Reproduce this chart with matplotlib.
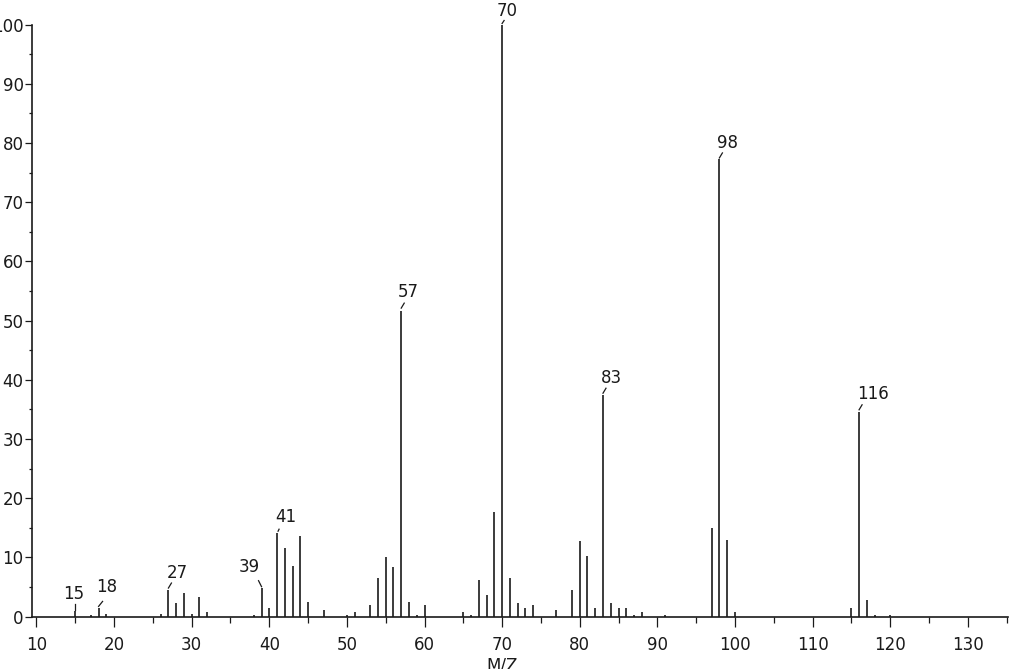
import matplotlib
matplotlib.use("Agg")
import matplotlib.pyplot as plt
from matplotlib.lines import Line2D
from matplotlib.transforms import IdentityTransform
from matplotlib.ticker import MultipleLocator

# ---- data -------------------------------------------------------------
mz = [15, 17, 18, 19, 26, 27, 28, 29, 30, 31, 32, 38, 39, 40, 41, 42, 43, 44, 45, 47,
      50, 51, 53, 54, 55, 56, 57, 58, 59, 60, 65, 66, 67, 68, 69, 70, 71, 72, 73, 74,
      77, 79, 80, 81, 82, 83, 84, 85, 86, 87, 88, 91, 97, 98, 99, 100,
      115, 116, 117, 118, 120]
intensity = [0.9, 0.3, 1.4, 0.4, 0.4, 4.5, 2.25, 3.95, 0.4, 3.4, 0.85, 0.35, 4.9, 1.4,
             14.1, 11.65, 8.55, 13.6, 2.5, 1.1,
             0.3, 0.8, 2.0, 6.5, 10.1, 8.45, 51.6, 2.5, 0.3, 2.0, 0.8, 0.3, 6.2, 3.65,
             17.6, 100.0, 6.5, 2.25, 1.4, 2.0,
             1.1, 4.5, 12.8, 10.2, 1.4, 37.4, 2.25, 1.4, 1.4, 0.3, 0.8, 0.3, 15.0, 77.3,
             13.0, 0.8,
             1.4, 34.6, 2.8, 0.3, 0.3]
labeled_peaks = [15, 18, 27, 39, 41, 57, 70, 83, 98, 116]
x_ticks = [10, 20, 30, 40, 50, 60, 70, 80, 90, 100, 110, 120, 130]
y_ticks = [0, 10, 20, 30, 40, 50, 60, 70, 80, 90, 100]
x_title = "M/Z"

# ---- label layout (pixel offsets from bar top) ------------------------
# (leader x0, y0, x1, y1, text dx, text dy, ha)
right_lean = (0, 2, 3, 7, -2, 12, "left")
label_layout = {
    15: (0, 1, 0, 7, -1.5, 12, "center"),
    18: (0, 2, 4, 7, -2, 16, "left"),
    27: (0, 2, 3, 7, -2, 12, "left"),
    39: (0, 1, -3, 7, -1.5, 16, "right"),
    41: (1, 2, 2, 4, -2, 11, "left"),
    57: (0, 3, 3, 8, -3, 14, "left"),
    70: (0, 1, 2, 4, -5, 8, "left"),
    83: right_lean,
    98: (0, 1, 3, 6, -2.5, 11, "left"),
    116: (0, 2, 3, 7, -2, 13, "left"),
}

# ---- figure -----------------------------------------------------------
W, H, DPI = 1024, 669, 100
fig = plt.figure(figsize=(W / DPI, H / DPI), dpi=DPI)
left_px, right_px, top_px, base_px = 32.3, 1008.0, 24.5, 616.7
ax = fig.add_axes([left_px / W, (H - base_px) / H,
                   (right_px - left_px) / W, (base_px - top_px) / H])

ink = "#1a1a1a"
ax.vlines(mz, 0, intensity, color=ink, lw=1.2, clip_on=False)

ax.set_xlim(9.46, 135.19)
ax.set_ylim(0, 100)

for s in ("top", "right"):
    ax.spines[s].set_visible(False)
for s in ("left", "bottom"):
    ax.spines[s].set_linewidth(1.2)
    ax.spines[s].set_color(ink)

ax.set_xticks(x_ticks)
ax.set_yticks(y_ticks)
ax.xaxis.set_minor_locator(MultipleLocator(5))
ax.yaxis.set_minor_locator(MultipleLocator(5))
ax.tick_params(axis="x", which="major", length=7.2, width=0.9, pad=7.0,
               labelsize=12, colors=ink)
ax.tick_params(axis="x", which="minor", length=4.3, width=0.9, colors=ink)
ax.tick_params(axis="y", which="major", length=5.0, width=0.9, pad=1.2,
               labelsize=12, colors=ink)
ax.tick_params(axis="y", which="minor", length=2.2, width=0.9, colors=ink)

# x title centred under m/z 70
xt_frac = (70 - 9.46) / (135.19 - 9.46)
ax.text(xt_frac, -(656.7 - base_px) / (base_px - top_px), x_title,
        transform=ax.transAxes, ha="center", va="top", fontsize=12, color=ink,
        clip_on=False)

# peak labels with small leader lines
fig.canvas.draw()
lookup = dict(zip(mz, intensity))
for p in labeled_peaks:
    y = lookup[p]
    x0, y0, x1, y1, tdx, tdy, ha = label_layout[p]
    px, py = ax.transData.transform((p, y))
    fig.add_artist(Line2D([px + x0, px + x1], [py + y0, py + y1],
                          transform=IdentityTransform(), color=ink, lw=0.9))
    ax.annotate(str(p), xy=(p, y), xytext=(tdx, tdy), textcoords="offset pixels",
                ha=ha, va="baseline", fontsize=12, color=ink,
                annotation_clip=False)

fig.savefig("out.png", dpi=DPI)
